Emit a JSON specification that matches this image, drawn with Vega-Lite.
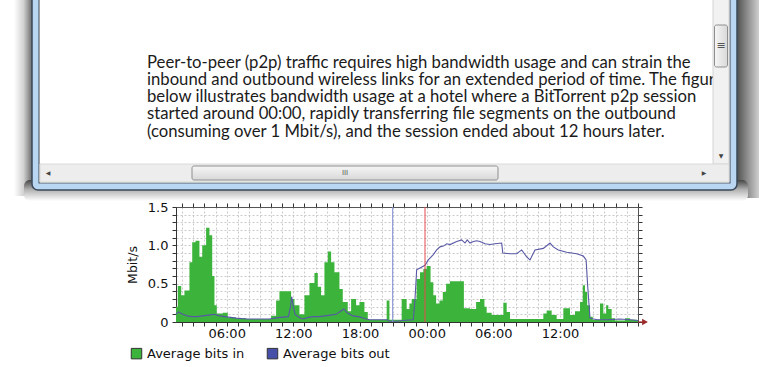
{
  "$schema": "https://vega.github.io/schema/vega-lite/v6.json",
  "padding": 0,
  "background": "white",
  "config": {"view": {"stroke": null}, "font": "DejaVu Sans"},
  "datasets": {
    "bits": [
      {"series":"Average bits in","hour":1.44,"mbps":0.2},{"series":"Average bits in","hour":1.6,"mbps":0.47},{"series":"Average bits in","hour":1.91,"mbps":0.35},{"series":"Average bits in","hour":2.2,"mbps":0.41},{"series":"Average bits in","hour":2.65,"mbps":0.78},{"series":"Average bits in","hour":2.9,"mbps":1.04},{"series":"Average bits in","hour":3.2,"mbps":1.06},{"series":"Average bits in","hour":3.55,"mbps":0.85},{"series":"Average bits in","hour":3.8,"mbps":1.0},{"series":"Average bits in","hour":4.15,"mbps":1.23},{"series":"Average bits in","hour":4.45,"mbps":1.13},{"series":"Average bits in","hour":4.7,"mbps":0.6},{"series":"Average bits in","hour":4.9,"mbps":0.22},{"series":"Average bits in","hour":5.11,"mbps":0.11},{"series":"Average bits in","hour":5.65,"mbps":0.12},{"series":"Average bits in","hour":6.1,"mbps":0.06},{"series":"Average bits in","hour":6.85,"mbps":0.05},{"series":"Average bits in","hour":7.75,"mbps":0.04},{"series":"Average bits in","hour":10.0,"mbps":0.08},{"series":"Average bits in","hour":10.45,"mbps":0.28},{"series":"Average bits in","hour":10.75,"mbps":0.4},{"series":"Average bits in","hour":11.8,"mbps":0.3},{"series":"Average bits in","hour":12.1,"mbps":0.22},{"series":"Average bits in","hour":12.55,"mbps":0.1},{"series":"Average bits in","hour":13.0,"mbps":0.35},{"series":"Average bits in","hour":13.45,"mbps":0.51},{"series":"Average bits in","hour":13.9,"mbps":0.64},{"series":"Average bits in","hour":14.2,"mbps":0.46},{"series":"Average bits in","hour":14.5,"mbps":0.35},{"series":"Average bits in","hour":14.8,"mbps":0.78},{"series":"Average bits in","hour":15.1,"mbps":0.92},{"series":"Average bits in","hour":15.4,"mbps":0.78},{"series":"Average bits in","hour":15.7,"mbps":0.65},{"series":"Average bits in","hour":16.15,"mbps":0.43},{"series":"Average bits in","hour":16.45,"mbps":0.26},{"series":"Average bits in","hour":16.9,"mbps":0.14},{"series":"Average bits in","hour":17.2,"mbps":0.3},{"series":"Average bits in","hour":17.65,"mbps":0.22},{"series":"Average bits in","hour":17.95,"mbps":0.26},{"series":"Average bits in","hour":18.4,"mbps":0.13},{"series":"Average bits in","hour":18.7,"mbps":0.03},{"series":"Average bits in","hour":20.4,"mbps":0.28},{"series":"Average bits in","hour":20.65,"mbps":0.03},{"series":"Average bits in","hour":21.75,"mbps":0.3},{"series":"Average bits in","hour":22.2,"mbps":0.17},{"series":"Average bits in","hour":22.45,"mbps":0.24},{"series":"Average bits in","hour":22.65,"mbps":0.3},{"series":"Average bits in","hour":23.1,"mbps":0.56},{"series":"Average bits in","hour":23.4,"mbps":0.65},{"series":"Average bits in","hour":23.7,"mbps":0.69},{"series":"Average bits in","hour":24.0,"mbps":0.73},{"series":"Average bits in","hour":24.35,"mbps":0.52},{"series":"Average bits in","hour":24.6,"mbps":0.35},{"series":"Average bits in","hour":24.85,"mbps":0.24},{"series":"Average bits in","hour":25.15,"mbps":0.28},{"series":"Average bits in","hour":25.45,"mbps":0.39},{"series":"Average bits in","hour":25.75,"mbps":0.5},{"series":"Average bits in","hour":26.1,"mbps":0.53},{"series":"Average bits in","hour":27.35,"mbps":0.18},{"series":"Average bits in","hour":27.9,"mbps":0.17},{"series":"Average bits in","hour":28.45,"mbps":0.26},{"series":"Average bits in","hour":28.8,"mbps":0.3},{"series":"Average bits in","hour":29.2,"mbps":0.2},{"series":"Average bits in","hour":29.4,"mbps":0.12},{"series":"Average bits in","hour":29.85,"mbps":0.09},{"series":"Average bits in","hour":30.9,"mbps":0.25},{"series":"Average bits in","hour":31.2,"mbps":0.13},{"series":"Average bits in","hour":31.5,"mbps":0.04},{"series":"Average bits in","hour":34.5,"mbps":0.11},{"series":"Average bits in","hour":34.8,"mbps":0.15},{"series":"Average bits in","hour":35.25,"mbps":0.09},{"series":"Average bits in","hour":35.7,"mbps":0.04},{"series":"Average bits in","hour":36.3,"mbps":0.18},{"series":"Average bits in","hour":36.9,"mbps":0.09},{"series":"Average bits in","hour":37.35,"mbps":0.14},{"series":"Average bits in","hour":37.8,"mbps":0.26},{"series":"Average bits in","hour":38.05,"mbps":0.48},{"series":"Average bits in","hour":38.25,"mbps":0.39},{"series":"Average bits in","hour":38.45,"mbps":0.22},{"series":"Average bits in","hour":38.7,"mbps":0.07},{"series":"Average bits in","hour":38.95,"mbps":0.03},{"series":"Average bits in","hour":39.6,"mbps":0.24},{"series":"Average bits in","hour":39.9,"mbps":0.11},{"series":"Average bits in","hour":40.15,"mbps":0.22},{"series":"Average bits in","hour":40.35,"mbps":0.17},{"series":"Average bits in","hour":40.65,"mbps":0.05},{"series":"Average bits in","hour":40.95,"mbps":0.02},{"series":"Average bits in","hour":41.85,"mbps":0.05},{"series":"Average bits in","hour":42.3,"mbps":0.03},{"series":"Average bits in","hour":42.9,"mbps":0.02},{"series":"Average bits in","hour":43.02,"mbps":0.02},
      {"series":"Average bits out","hour":1.44,"mbps":0.1},{"series":"Average bits out","hour":1.65,"mbps":0.13},{"series":"Average bits out","hour":2.05,"mbps":0.1},{"series":"Average bits out","hour":2.45,"mbps":0.08},{"series":"Average bits out","hour":2.85,"mbps":0.07},{"series":"Average bits out","hour":3.35,"mbps":0.07},{"series":"Average bits out","hour":3.85,"mbps":0.08},{"series":"Average bits out","hour":4.35,"mbps":0.09},{"series":"Average bits out","hour":4.85,"mbps":0.1},{"series":"Average bits out","hour":5.35,"mbps":0.08},{"series":"Average bits out","hour":5.85,"mbps":0.07},{"series":"Average bits out","hour":6.85,"mbps":0.05},{"series":"Average bits out","hour":7.85,"mbps":0.04},{"series":"Average bits out","hour":8.85,"mbps":0.04},{"series":"Average bits out","hour":9.85,"mbps":0.04},{"series":"Average bits out","hour":10.35,"mbps":0.05},{"series":"Average bits out","hour":10.85,"mbps":0.06},{"series":"Average bits out","hour":11.55,"mbps":0.07},{"series":"Average bits out","hour":11.75,"mbps":0.2},{"series":"Average bits out","hour":11.85,"mbps":0.33},{"series":"Average bits out","hour":12.0,"mbps":0.2},{"series":"Average bits out","hour":12.15,"mbps":0.1},{"series":"Average bits out","hour":12.55,"mbps":0.06},{"series":"Average bits out","hour":12.85,"mbps":0.04},{"series":"Average bits out","hour":13.35,"mbps":0.06},{"series":"Average bits out","hour":13.85,"mbps":0.07},{"series":"Average bits out","hour":14.35,"mbps":0.07},{"series":"Average bits out","hour":14.85,"mbps":0.08},{"series":"Average bits out","hour":15.35,"mbps":0.09},{"series":"Average bits out","hour":15.85,"mbps":0.1},{"series":"Average bits out","hour":16.25,"mbps":0.14},{"series":"Average bits out","hour":16.55,"mbps":0.17},{"series":"Average bits out","hour":16.85,"mbps":0.12},{"series":"Average bits out","hour":17.35,"mbps":0.08},{"series":"Average bits out","hour":17.85,"mbps":0.07},{"series":"Average bits out","hour":18.35,"mbps":0.05},{"series":"Average bits out","hour":18.85,"mbps":0.03},{"series":"Average bits out","hour":19.85,"mbps":0.03},{"series":"Average bits out","hour":20.45,"mbps":0.03},{"series":"Average bits out","hour":20.65,"mbps":0.01},{"series":"Average bits out","hour":21.35,"mbps":0.01},{"series":"Average bits out","hour":21.85,"mbps":0.02},{"series":"Average bits out","hour":22.8,"mbps":0.03},{"series":"Average bits out","hour":22.95,"mbps":0.3},{"series":"Average bits out","hour":23.1,"mbps":0.68},{"series":"Average bits out","hour":23.85,"mbps":0.74},{"series":"Average bits out","hour":24.15,"mbps":0.81},{"series":"Average bits out","hour":24.6,"mbps":0.88},{"series":"Average bits out","hour":24.9,"mbps":0.94},{"series":"Average bits out","hour":25.2,"mbps":0.98},{"series":"Average bits out","hour":25.5,"mbps":0.99},{"series":"Average bits out","hour":25.8,"mbps":1.02},{"series":"Average bits out","hour":26.1,"mbps":1.01},{"series":"Average bits out","hour":26.7,"mbps":1.05},{"series":"Average bits out","hour":27.15,"mbps":1.07},{"series":"Average bits out","hour":27.45,"mbps":1.03},{"series":"Average bits out","hour":27.65,"mbps":1.07},{"series":"Average bits out","hour":27.9,"mbps":1.03},{"series":"Average bits out","hour":28.2,"mbps":1.05},{"series":"Average bits out","hour":28.5,"mbps":1.06},{"series":"Average bits out","hour":28.8,"mbps":1.05},{"series":"Average bits out","hour":29.25,"mbps":1.02},{"series":"Average bits out","hour":29.7,"mbps":1.01},{"series":"Average bits out","hour":30.15,"mbps":1.02},{"series":"Average bits out","hour":30.75,"mbps":1.03},{"series":"Average bits out","hour":30.85,"mbps":0.9},{"series":"Average bits out","hour":31.5,"mbps":0.89},{"series":"Average bits out","hour":32.1,"mbps":0.89},{"series":"Average bits out","hour":32.55,"mbps":0.94},{"series":"Average bits out","hour":33.0,"mbps":0.85},{"series":"Average bits out","hour":33.3,"mbps":0.81},{"series":"Average bits out","hour":33.75,"mbps":0.94},{"series":"Average bits out","hour":34.5,"mbps":0.96},{"series":"Average bits out","hour":35.1,"mbps":1.03},{"series":"Average bits out","hour":35.4,"mbps":0.98},{"series":"Average bits out","hour":35.85,"mbps":0.94},{"series":"Average bits out","hour":36.6,"mbps":0.91},{"series":"Average bits out","hour":37.5,"mbps":0.89},{"series":"Average bits out","hour":38.1,"mbps":0.86},{"series":"Average bits out","hour":38.35,"mbps":0.81},{"series":"Average bits out","hour":38.5,"mbps":0.45},{"series":"Average bits out","hour":38.7,"mbps":0.05},{"series":"Average bits out","hour":39.35,"mbps":0.03},{"series":"Average bits out","hour":40.35,"mbps":0.03},{"series":"Average bits out","hour":41.35,"mbps":0.04},{"series":"Average bits out","hour":42.35,"mbps":0.03},{"series":"Average bits out","hour":43.02,"mbps":0.02}
    ],
    "markers": [{"hour": 20.94, "marker": "marker 1"}, {"hour": 23.85, "marker": "marker 2"}],
    "paragraph": [
      {"lines": ["Peer-to-peer (p2p) traffic requires high bandwidth usage and can strain the",
                 "inbound and outbound wireless links for an extended period of time. The figure",
                 "below illustrates bandwidth usage at a hotel where a BitTorrent p2p session",
                 "started around 00:00, rapidly transferring file segments on the outbound",
                 "(consuming over 1 Mbit/s), and the session ended about 12 hours later."]}
    ]
  },
  "spacing": 7,
  "bounds": "flush",
  "vconcat": [
    {
      "width": 759,
      "height": 200,
      "data": {"values": [{}]},
      "layer": [
        {"mark": {"type": "rect", "color": {"gradient": "linear", "x1": 0, "y1": 0, "x2": 1, "y2": 0, "stops": [{"offset": 0, "color": "#ffffff"}, {"offset": 0.5, "color": "#d2d2d2"}, {"offset": 1, "color": "#606060"}]}},
         "encoding": {"x": {"datum": 14, "type": "quantitative", "scale": {"domain": [0, 759], "nice": false, "zero": false}, "axis": null}, "x2": {"datum": 33}, "y": {"datum": 0, "type": "quantitative", "scale": {"domain": [0, 200], "reverse": true, "nice": false, "zero": false}, "axis": null}, "y2": {"datum": 196}}},
        {"mark": {"type": "rect", "color": {"gradient": "linear", "x1": 0, "y1": 0, "x2": 1, "y2": 0, "stops": [{"offset": 0, "color": "#3a3a3a"}, {"offset": 0.5, "color": "#858585"}, {"offset": 1, "color": "#cfcfcf"}]}},
         "encoding": {"x": {"datum": 733, "type": "quantitative", "axis": null}, "x2": {"datum": 759}, "y": {"datum": 0, "type": "quantitative", "axis": null}, "y2": {"datum": 198}}},
        {"mark": {"type": "rect", "cornerRadius": 6, "color": {"gradient": "linear", "x1": 0, "y1": 0, "x2": 0, "y2": 1, "stops": [{"offset": 0, "color": "#454545"}, {"offset": 0.45, "color": "#b0b0b0"}, {"offset": 1, "color": "#ffffff"}]}},
         "encoding": {"x": {"datum": 24, "type": "quantitative", "axis": null}, "x2": {"datum": 748}, "y": {"datum": 180, "type": "quantitative", "axis": null}, "y2": {"datum": 201}}},
        {"mark": {"type": "rect", "clip": true, "fill": "#b9d6f2", "stroke": "#3a4a5a", "strokeWidth": 1.5, "cornerRadius": 6},
         "encoding": {"x": {"datum": 32, "type": "quantitative", "axis": null}, "x2": {"datum": 737}, "y": {"datum": -10, "type": "quantitative", "axis": null}, "y2": {"datum": 190}}},
        {"mark": {"type": "rect", "clip": true, "fill": "#ffffff", "stroke": "#56626e", "strokeWidth": 1.2},
         "encoding": {"x": {"datum": 39, "type": "quantitative", "axis": null}, "x2": {"datum": 730}, "y": {"datum": -10, "type": "quantitative", "axis": null}, "y2": {"datum": 183}}},
        {
          "data": {"name": "paragraph"},
          "mark": {"type": "text", "align": "left", "baseline": "middle", "font": "Lato", "fontSize": 16.7, "lineHeight": 17.25, "color": "#1b1b1b"},
          "encoding": {
            "x": {"datum": 147, "type": "quantitative", "axis": null},
            "y": {"datum": 62.5, "type": "quantitative", "axis": null},
            "text": {"field": "lines", "type": "nominal"}
          }
        },
        {"mark": {"type": "rect", "clip": true, "fill": "#f1f1f1", "stroke": "#d4d4d4", "strokeWidth": 1},
         "encoding": {"x": {"datum": 713, "type": "quantitative", "axis": null}, "x2": {"datum": 729}, "y": {"datum": -10, "type": "quantitative", "axis": null}, "y2": {"datum": 164}}},
        {"mark": {"type": "rect", "stroke": "#8e8e8e", "strokeWidth": 1, "cornerRadius": 2, "color": {"gradient": "linear", "x1": 0, "y1": 0, "x2": 1, "y2": 0, "stops": [{"offset": 0, "color": "#f6f6f6"}, {"offset": 1, "color": "#d8d8d8"}]}},
         "encoding": {"x": {"datum": 714.5, "type": "quantitative", "axis": null}, "x2": {"datum": 727.5}, "y": {"datum": 25, "type": "quantitative", "axis": null}, "y2": {"datum": 67}}},
        {"mark": {"type": "text", "text": "≡", "fontSize": 11, "color": "#555555", "align": "center", "baseline": "middle"},
         "encoding": {"x": {"datum": 721, "type": "quantitative", "axis": null}, "y": {"datum": 46, "type": "quantitative", "axis": null}}},
        {"mark": {"type": "text", "text": "▼", "fontSize": 6, "color": "#444444", "align": "center", "baseline": "middle"},
         "encoding": {"x": {"datum": 721, "type": "quantitative", "axis": null}, "y": {"datum": 156, "type": "quantitative", "axis": null}}},
        {"mark": {"type": "rect", "fill": "#ededed", "stroke": "#dadada", "strokeWidth": 1},
         "encoding": {"x": {"datum": 40, "type": "quantitative", "axis": null}, "x2": {"datum": 729}, "y": {"datum": 164, "type": "quantitative", "axis": null}, "y2": {"datum": 182}}},
        {"mark": {"type": "rect", "stroke": "#8e8e8e", "strokeWidth": 1, "cornerRadius": 2, "color": {"gradient": "linear", "x1": 0, "y1": 0, "x2": 0, "y2": 1, "stops": [{"offset": 0, "color": "#f6f6f6"}, {"offset": 1, "color": "#d8d8d8"}]}},
         "encoding": {"x": {"datum": 192, "type": "quantitative", "axis": null}, "x2": {"datum": 498}, "y": {"datum": 166, "type": "quantitative", "axis": null}, "y2": {"datum": 180}}},
        {"mark": {"type": "text", "text": "III", "fontSize": 7, "color": "#555555", "align": "center", "baseline": "middle"},
         "encoding": {"x": {"datum": 345, "type": "quantitative", "axis": null}, "y": {"datum": 173, "type": "quantitative", "axis": null}}},
        {"mark": {"type": "text", "text": "◀", "fontSize": 6, "color": "#444444", "align": "center", "baseline": "middle"},
         "encoding": {"x": {"datum": 48, "type": "quantitative", "axis": null}, "y": {"datum": 173, "type": "quantitative", "axis": null}}},
        {"mark": {"type": "text", "text": "▶", "fontSize": 6, "color": "#444444", "align": "center", "baseline": "middle"},
         "encoding": {"x": {"datum": 704, "type": "quantitative", "axis": null}, "y": {"datum": 173, "type": "quantitative", "axis": null}}}
      ]
    },
    {
      "bounds": "flush",
      "spacing": 0,
      "hconcat": [
        {
          "width": 176,
          "height": 10,
          "data": {"values": [{}]},
          "mark": {"type": "text", "text": ""}
        },
        {
          "width": 462,
          "height": 115,
          "view": {"stroke": "#555555", "strokeWidth": 1},
          "layer": [
            {
              "data": {"name": "bits"},
              "transform": [{"filter": "datum.series == 'Average bits in'"}],
              "mark": {"type": "area", "interpolate": "step-after"},
              "encoding": {
                "x": {"field": "hour", "type": "quantitative", "scale": {"domain": [1.44, 43.02], "nice": false, "zero": false},
                      "axis": {"orient": "bottom", "title": null, "values": [2,3,4,5,6,7,8,9,10,11,12,13,14,15,16,17,18,19,20,21,22,23,24,25,26,27,28,29,30,31,32,33,34,35,36,37,38,39,40,41,42,43],
                               "labelExpr": "(datum.value % 6 == 0 && datum.value <= 36) ? ((datum.value % 24) < 10 ? '0' : '') + (datum.value % 24) + ':00' : ''",
                               "grid": true, "gridColor": "#bdbdbd", "gridDash": [2, 2], "gridWidth": 0.8,
                               "tickSize": 4, "tickColor": "#333333", "domainColor": "#333333",
                               "labelFont": "DejaVu Sans", "labelFontSize": 13, "labelColor": "#111111", "labelPadding": 1, "labelOverlap": false, "labelFlush": false}},
                "y": {"field": "mbps", "type": "quantitative", "scale": {"domain": [0, 1.5], "nice": false},
                      "axis": {"orient": "left", "title": "Mbit/s", "values": [0,0.1,0.2,0.3,0.4,0.5,0.6,0.7,0.8,0.9,1.0,1.1,1.2,1.3,1.4,1.5],
                               "labelExpr": "datum.value == 0 ? '0' : (round(datum.value * 10) % 5 == 0 ? format(datum.value, '.1f') : '')",
                               "grid": true, "gridColor": "#bdbdbd", "gridDash": [2, 2], "gridWidth": 0.8,
                               "tickSize": 4, "tickColor": "#333333", "domainColor": "#333333",
                               "labelFont": "DejaVu Sans", "labelFontSize": 13, "labelColor": "#111111", "labelPadding": 4, "labelOverlap": false, "labelFlush": false,
                               "titleFont": "DejaVu Sans", "titleFontSize": 12.5, "titleFontWeight": "normal", "titleColor": "#111111", "titlePadding": 8}},
                "color": {"field": "series", "type": "nominal",
                          "scale": {"domain": ["Average bits in", "Average bits out"], "range": ["#3cb43c", "#4650a8"]},
                          "legend": {"orient": "none", "legendX": 130, "legendY": 347, "direction": "horizontal", "title": null,
                                     "symbolType": "square", "symbolSize": 110, "labelFont": "DejaVu Sans", "labelFontSize": 13, "labelColor": "#111111",
                                     "labelOffset": 4, "columnPadding": 20, "padding": 0,
                                     "encode": {"symbols": {"update": {"stroke": {"value": "#333333"}, "strokeWidth": {"value": 1}, "opacity": {"value": 1}}}}}}
              }
            },
            {
              "data": {"name": "bits"},
              "transform": [{"filter": "datum.series == 'Average bits out'"}],
              "mark": {"type": "line", "color": "#5858a6", "strokeWidth": 1.1},
              "encoding": {
                "x": {"field": "hour", "type": "quantitative", "scale": {"domain": [1.44, 43.02], "nice": false, "zero": false},
                      "axis": {"orient": "top", "title": null, "values": [2,3,4,5,6,7,8,9,10,11,12,13,14,15,16,17,18,19,20,21,22,23,24,25,26,27,28,29,30,31,32,33,34,35,36,37,38,39,40,41,42,43],
                               "labels": false, "grid": false, "tickSize": 4, "tickColor": "#333333", "domainColor": "#555555"}},
                "y": {"field": "mbps", "type": "quantitative", "scale": {"domain": [0, 1.5], "nice": false},
                      "axis": {"orient": "right", "title": null, "values": [0,0.1,0.2,0.3,0.4,0.5,0.6,0.7,0.8,0.9,1.0,1.1,1.2,1.3,1.4,1.5],
                               "labels": false, "grid": false, "tickSize": 4, "tickColor": "#333333", "domainColor": "#555555"}}
              }
            },
            {
              "data": {"name": "markers"},
              "mark": {"type": "rule", "strokeWidth": 1},
              "encoding": {
                "x": {"field": "hour", "type": "quantitative", "axis": null},
                "stroke": {"field": "marker", "type": "nominal", "scale": {"domain": ["marker 1", "marker 2"], "range": ["#7f8fd6", "#e5484d"]}, "legend": null}
              }
            },
            {
              "data": {"values": [{}]},
              "mark": {"type": "rule", "color": "#9b2b2b", "strokeWidth": 1.2, "clip": false},
              "encoding": {"x": {"datum": 43.02, "type": "quantitative", "axis": null}, "x2": {"datum": 43.5}, "y": {"datum": 0, "type": "quantitative", "axis": null}}
            },
            {
              "data": {"values": [{}]},
              "mark": {"type": "point", "shape": "triangle-right", "filled": true, "color": "#9b2b2b", "size": 45, "opacity": 1, "clip": false},
              "encoding": {"x": {"datum": 43.65, "type": "quantitative", "axis": null}, "y": {"datum": 0, "type": "quantitative", "axis": null}}
            }
          ],
          "resolve": {"axis": {"x": "independent", "y": "independent"}}
        }
      ]
    }
  ]
}
